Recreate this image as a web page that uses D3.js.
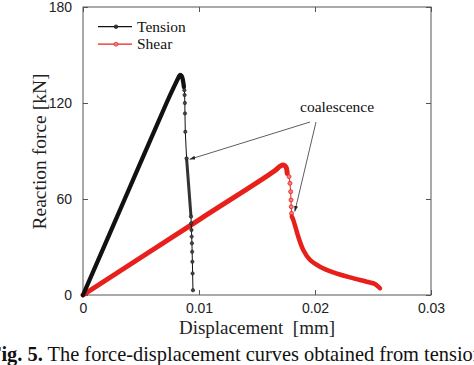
<!DOCTYPE html>
<html><head><meta charset="utf-8">
<script src="https://cdn.jsdelivr.net/npm/d3@7"></script>
<style>
html,body{margin:0;padding:0;background:#fff;overflow:hidden;}
svg{display:block;}
</style></head>
<body>
<script>
// ---- data ----
const xTicks = [0, 0.01, 0.02, 0.03];
const xTickLabels = ["0", "0.01", "0.02", "0.03"];
const yTicks = [0, 60, 120, 180];
const yTickLabels = ["0", "60", "120", "180"];

// Tension: loading branch (dense markers -> thick line)
const tensionRiseX = [0, 0.0036, 0.0072, 0.0079, 0.0082, 0.00836, 0.0085, 0.00862, 0.0087];
const tensionRiseY = [0, 60, 120, 131, 135.5, 137.5, 137, 134, 130];
// Tension: post-peak drop (sparse markers)
const tensionDropX = [0.0087, 0.00874, 0.00876, 0.00878, 0.00879, 0.00882, 0.00893, 0.00931, 0.00933, 0.00935, 0.00937, 0.00939, 0.00941, 0.00943, 0.00945, 0.00948];
const tensionDropY = [130, 128, 125, 120, 113.5, 102, 85.4, 49, 44.8, 40.6, 36.5, 32.3, 27, 20.8, 13.5, 3];
// Tension: dense cluster in the drop
const tensionClusterX = [0.00893, 0.00931];
const tensionClusterY = [85.4, 49];

// Shear: loading branch
const shearRiseX = [0, 0.0100, 0.0165, 0.0170, 0.01727, 0.0175, 0.0176];
const shearRiseY = [0, 47, 77.5, 80.5, 81.2, 80, 76];
// Shear: drop (sparse markers)
const shearDropX = [0.0176, 0.01776, 0.01784, 0.0179, 0.01793, 0.01795, 0.01798, 0.0180];
const shearDropY = [76, 74, 69.8, 64.6, 59.4, 55.2, 51, 49];
// Shear: softening tail (dense markers -> thick line)
const shearTailX = [0.0180, 0.01813, 0.01856, 0.0190, 0.01957, 0.02043, 0.02158, 0.02302, 0.02445, 0.02517, 0.02546, 0.0256];
const shearTailY = [49, 46.9, 36.4, 28, 21.9, 17.7, 14.2, 11, 8.3, 6.9, 5.2, 4.2];

const legendLabels = ["Tension", "Shear"];
const annotationText = "coalescence";
const xLabel = "Displacement  [mm]";
const yLabel = "Reaction force [kN]";
const captionBold = "Fig. 5.";
const captionText = " The force-displacement curves obtained from tension";

// ---- layout ----
const W = 474, H = 365;
const L = 83, R = 431, T = 7, B = 295;
const black = "#111", red = "#e8201c", axisCol = "#555";
const serif = "'Liberation Serif','Times New Roman',serif";
const sans = "'Liberation Sans',Arial,sans-serif";

const svg = d3.select("body").append("svg").attr("width", W).attr("height", H);
const x = d3.scaleLinear().domain([0, 0.03]).range([L, R]);
const y = d3.scaleLinear().domain([0, 180]).range([B, T]);

const zip = (xs, ys) => xs.map((v, i) => [v, ys[i]]);
const line = d3.line().x(d => x(d[0])).y(d => y(d[1]));
const smooth = d3.line().x(d => x(d[0])).y(d => y(d[1])).curve(d3.curveCatmullRom.alpha(0.5));

// axes box
svg.append("rect").attr("x", L).attr("y", T).attr("width", R - L).attr("height", B - T)
  .attr("fill", "none").attr("stroke", axisCol).attr("stroke-width", 1);

const xAxisB = d3.axisBottom(x).tickValues(xTicks).tickFormat((d, i) => xTickLabels[i]).tickSizeInner(-5).tickSizeOuter(0).tickPadding(8);
const gxb = svg.append("g").attr("transform", `translate(0,${B})`).call(xAxisB);
const xAxisT = d3.axisTop(x).tickValues(xTicks).tickFormat("").tickSizeInner(-5).tickSizeOuter(0);
const gxt = svg.append("g").attr("transform", `translate(0,${T})`).call(xAxisT);
const yAxisL = d3.axisLeft(y).tickValues(yTicks).tickFormat((d, i) => yTickLabels[i]).tickSizeInner(-5).tickSizeOuter(0).tickPadding(11);
const gyl = svg.append("g").attr("transform", `translate(${L},0)`).call(yAxisL);
const yAxisR = d3.axisRight(y).tickValues(yTicks).tickFormat("").tickSizeInner(-5).tickSizeOuter(0);
const gyr = svg.append("g").attr("transform", `translate(${R},0)`).call(yAxisR);
[gxb, gxt, gyl, gyr].forEach(g => {
  g.select(".domain").remove();
  g.selectAll(".tick line").attr("stroke", axisCol);
  g.selectAll(".tick text").attr("fill", "#222").style("font-family", sans).style("font-size", "14px");
});

// Shear series
svg.append("path").attr("d", smooth(zip(shearRiseX, shearRiseY))).attr("fill", "none")
  .attr("stroke", red).attr("stroke-width", 5).attr("stroke-linejoin", "round").attr("stroke-linecap", "round");
svg.append("path").attr("d", line(zip(shearDropX, shearDropY))).attr("fill", "none")
  .attr("stroke", red).attr("stroke-width", 1);
svg.append("g").selectAll("circle").data(zip(shearDropX, shearDropY).slice(1, -1)).join("circle")
  .attr("cx", d => x(d[0])).attr("cy", d => y(d[1])).attr("r", 2)
  .attr("fill", "#f08080").attr("stroke", red).attr("stroke-width", 0.8);
svg.append("path").attr("d", smooth(zip(shearTailX, shearTailY))).attr("fill", "none")
  .attr("stroke", red).attr("stroke-width", 4.5).attr("stroke-linejoin", "round").attr("stroke-linecap", "round");

// Tension series
svg.append("path").attr("d", smooth(zip(tensionRiseX, tensionRiseY))).attr("fill", "none")
  .attr("stroke", black).attr("stroke-width", 4.3).attr("stroke-linejoin", "round").attr("stroke-linecap", "round");
svg.append("path").attr("d", line(zip(tensionDropX, tensionDropY))).attr("fill", "none")
  .attr("stroke", black).attr("stroke-width", 1);
svg.append("path").attr("d", line(zip(tensionClusterX, tensionClusterY))).attr("fill", "none")
  .attr("stroke", "#333").attr("stroke-width", 3).attr("stroke-linecap", "round");
svg.append("g").selectAll("circle").data(zip(tensionDropX, tensionDropY).slice(1)).join("circle")
  .attr("cx", d => x(d[0])).attr("cy", d => y(d[1])).attr("r", 1.7)
  .attr("fill", "#444").attr("stroke", black).attr("stroke-width", 0.5);

// annotation
const defs = svg.append("defs");
defs.append("marker").attr("id", "arr").attr("viewBox", "0 0 10 10").attr("refX", 10).attr("refY", 5)
  .attr("markerWidth", 7).attr("markerHeight", 7).attr("orient", "auto-start-reverse")
  .append("path").attr("d", "M0,1.5 L10,5 L0,8.5 z").attr("fill", "#222");
svg.append("text").attr("x", x(0.0219)).attr("y", 112).attr("text-anchor", "middle")
  .style("font-family", serif).style("font-size", "15.5px").attr("fill", "#111").text(annotationText);
svg.append("line").attr("x1", 310).attr("y1", 122).attr("x2", x(tensionClusterX[0]) + 3).attr("y2", y(tensionClusterY[0]) + 1)
  .attr("stroke", "#333").attr("stroke-width", 0.8).attr("marker-end", "url(#arr)");
svg.append("line").attr("x1", 316).attr("y1", 122).attr("x2", x(shearDropX[shearDropX.length - 1]) + 3).attr("y2", y(shearDropY[shearDropY.length - 1]) - 5)
  .attr("stroke", "#333").attr("stroke-width", 0.8).attr("marker-end", "url(#arr)");

// legend
const legend = svg.append("g");
const legCols = [black, red];
legendLabels.forEach((lab, i) => {
  const ly = 26.7 + i * 17.5;
  legend.append("line").attr("x1", 98).attr("x2", 132).attr("y1", ly).attr("y2", ly)
    .attr("stroke", legCols[i]).attr("stroke-width", i ? 1.2 : 1.3);
  legend.append("circle").attr("cx", 116).attr("cy", ly).attr("r", i ? 2 : 1.8)
    .attr("fill", i ? "#f08080" : "#333").attr("stroke", legCols[i]).attr("stroke-width", 0.7);
  legend.append("text").attr("x", 137).attr("y", ly + 5).style("font-family", serif).style("font-size", "15.5px")
    .attr("fill", "#111").text(lab);
});

// axis labels
svg.append("text").attr("x", (L + R) / 2).attr("y", 334).attr("text-anchor", "middle")
  .style("font-family", serif).style("font-size", "19px").attr("fill", "#222").style("white-space", "pre").text(xLabel);
svg.append("text").attr("transform", `translate(46,151.5) rotate(-90)`).attr("text-anchor", "middle")
  .style("font-family", serif).style("font-size", "19.5px").attr("fill", "#222").text(yLabel);

// caption
const cap = svg.append("text").attr("x", -11).attr("y", 361).style("font-family", serif).style("font-size", "20.4px")
  .attr("fill", "#111").style("white-space", "pre");
cap.append("tspan").style("font-weight", "bold").text(captionBold);
cap.append("tspan").text(captionText);
</script>
</body></html>
